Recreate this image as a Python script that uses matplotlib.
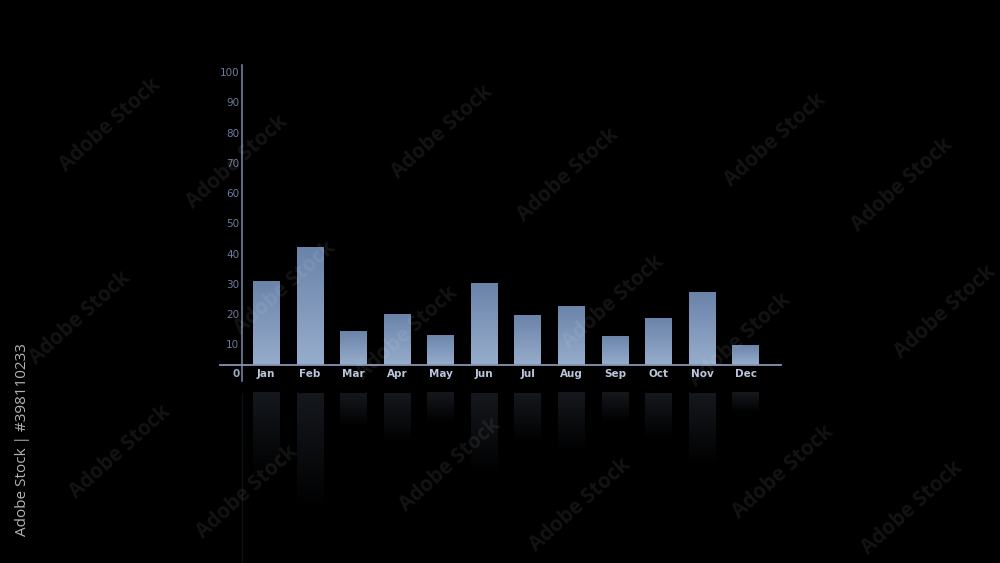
import numpy as np
import matplotlib
matplotlib.use("Agg")
import matplotlib.pyplot as plt
from matplotlib.colors import LinearSegmentedColormap

# data
months = ["Jan", "Feb", "Mar", "Apr", "May", "Jun",
          "Jul", "Aug", "Sep", "Oct", "Nov", "Dec"]
values = [31.0, 42.1, 14.2, 19.9, 13.1, 30.2, 19.5, 22.7, 12.8, 18.5, 27.2, 9.8]
y_ticks = [10, 20, 30, 40, 50, 60, 70, 80, 90, 100]

# watermark centres (pixels)
wm_spots = [(110, 125), (237, 162), (442, 132), (568, 175), (775, 140), (902, 185),
            (80, 318), (285, 288), (407, 333), (613, 302), (740, 340), (945, 312),
            (120, 452), (247, 492), (450, 465), (580, 505), (783, 472), (912, 508)]

W, H = 1000, 563
y_low, y_high = 3.1, 102.4     # axis baseline sits a little above 0
x_low, x_high = -1.06, 11.81
y_axis_x = -0.557

bar_cmap = LinearSegmentedColormap.from_list("bar", ["#6a83a8", "#97adcd"])
refl_cmap = LinearSegmentedColormap.from_list("refl", ["#15181d", "#000000"])
lab_font = ["Liberation Sans Narrow", "DejaVu Sans"]

fig = plt.figure(figsize=(W / 100, H / 100), dpi=100, facecolor="black")
ax = fig.add_axes([220 / W, 1 - 365 / H, 561 / W, 300 / H], facecolor="none")

x = np.arange(len(months))
bars = ax.bar(x, values, width=0.61, color="none", zorder=2)
grad = np.linspace(0, 1, 256).reshape(-1, 1)
for b, v in zip(bars, values):
    x0 = b.get_x()
    im = ax.imshow(grad, cmap=bar_cmap, aspect="auto", origin="upper",
                   extent=(x0, x0 + b.get_width(), y_low, v), zorder=2)
    im.set_clip_path(b)

ax.set_xlim(x_low, x_high)
ax.set_ylim(y_low, y_high)
ax.set_xticks(x)
ax.set_xticklabels(months)
ax.set_yticks(y_ticks)
ax.set_yticklabels([str(t) for t in y_ticks])
for s in ["top", "right"]:
    ax.spines[s].set_visible(False)
ax.spines["left"].set_position(("data", y_axis_x))
ax.spines["left"].set_color("#7b8cab")
ax.spines["left"].set_linewidth(1.1)
ax.spines["bottom"].set_color("#8595b3")
ax.spines["bottom"].set_linewidth(1.3)
ax.tick_params(axis="x", length=0, pad=3, colors="#b8c5db", labelsize=7.5)
ax.tick_params(axis="y", length=0, pad=2, colors="#6c7c9b", labelsize=7.5)
for lab in ax.get_xticklabels():
    lab.set_fontweight("bold")
    lab.set_family(lab_font)
for lab in ax.get_yticklabels():
    lab.set_family(lab_font)
# y axis runs a bit below the baseline
ax.axvline(y_axis_x, ymin=-0.053, ymax=0, color="#7b8cab", lw=1.1, clip_on=False)
ax.text(y_axis_x - 0.05, 0, "0", ha="right", va="center", color="#9aa9c4",
        fontsize=7.5, fontweight="bold", family=lab_font)

# reflection below
ax2 = fig.add_axes([220 / W, 0, 561 / W, (H - 393) / H], facecolor="none")
ax2.set_xlim(x_low, x_high)
ax2.set_ylim(y_low + 170 / 3.02, y_low)
rbars = ax2.bar(x, values, width=0.61, color="none")
for b, v in zip(rbars, values):
    x0 = b.get_x()
    im = ax2.imshow(grad, cmap=refl_cmap, aspect="auto", origin="upper",
                    extent=(x0, x0 + b.get_width(), v, y_low))
    im.set_clip_path(b)
ax2.axvline(y_axis_x, color="#0e1014", lw=1)
ax2.axis("off")

# stock watermarks
for cx, cy in wm_spots:
    fig.text(cx / W, 1 - cy / H, "Adobe Stock", rotation=42, ha="center", va="center",
             fontsize=15, fontweight="bold", color="white", alpha=0.08,
             family="Open Sans", zorder=10)
fig.text(22.5 / W, 1 - 440 / H, "Adobe Stock | #398110233", rotation=90,
         ha="center", va="center", fontsize=11, color="#b4b4b4", family="Open Sans")

fig.savefig("out.png", dpi=100, facecolor="black")
